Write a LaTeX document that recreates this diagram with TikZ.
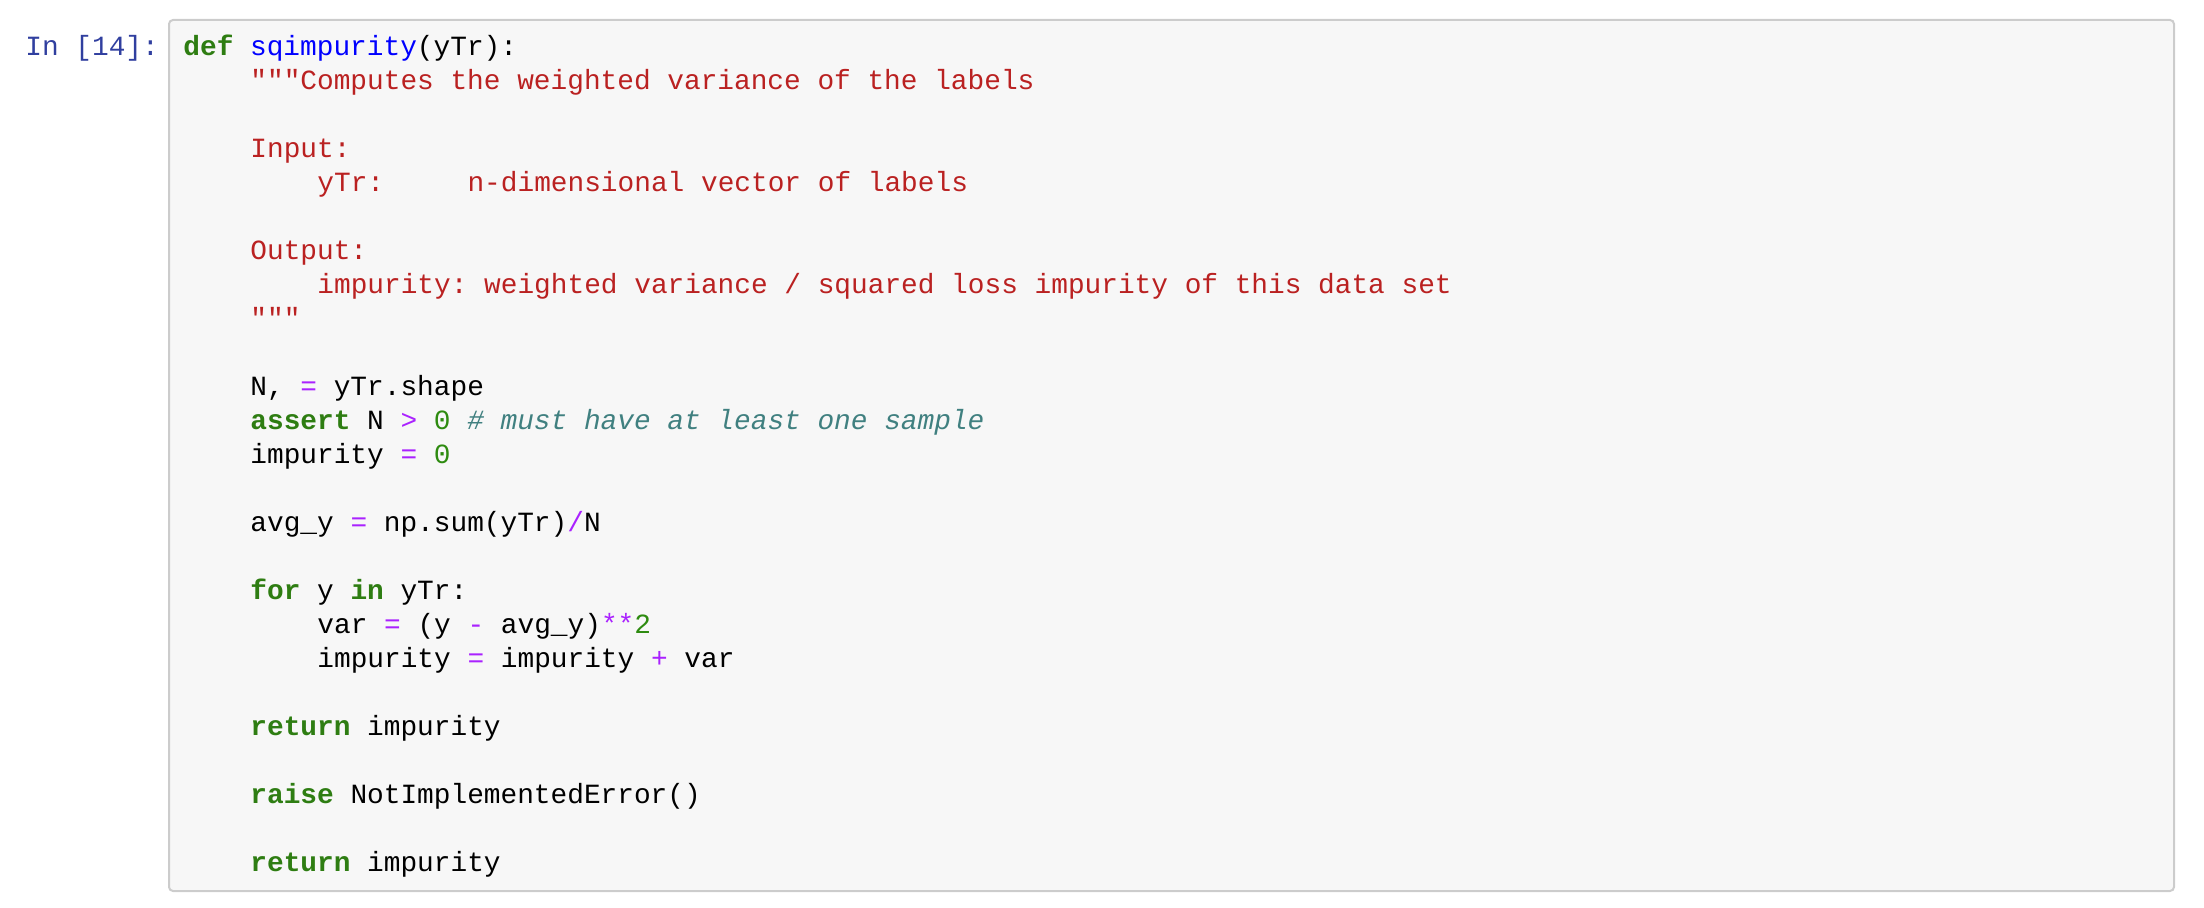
\documentclass[tikz,border=0pt]{standalone}
\usepackage{fontspec}
\setmonofont{Liberation Mono}
\definecolor{kwc}{HTML}{2E7D12}
\definecolor{fnc}{HTML}{0000FF}
\definecolor{stc}{HTML}{BA2121}
\definecolor{cmc}{HTML}{408080}
\definecolor{opc}{HTML}{AA22FF}
\definecolor{nmc}{HTML}{2E8B10}
\definecolor{prc}{HTML}{303F9F}
\newcommand{\kw}[1]{\textcolor{kwc}{\bfseries #1}}
\newcommand{\fn}[1]{\textcolor{fnc}{#1}}
\newcommand{\st}[1]{\textcolor{stc}{#1}}
\newcommand{\cm}[1]{\textcolor{cmc}{\itshape #1}}
\newcommand{\op}[1]{\textcolor{opc}{#1}}
\newcommand{\nm}[1]{\textcolor{nmc}{#1}}
\begin{document}
\begin{tikzpicture}[x=0.5pt,y=-0.5pt,
  code/.style={anchor=base west,inner sep=0pt,font=\ttfamily\fontsize{13.9}{17}\selectfont}]
\useasboundingbox (0,0) rectangle (2204,908);
\draw[fill=black!3,draw=black!20,line width=1pt,rounded corners=2pt] (169,20) rectangle (2174,891);
\node[code,text=prc] (p) at (25,56) {In~[14]:};
\newcommand{\cl}[4]{\node[code] (#1) at ({183+#2*16.75},{56+#3*33.98}) {#4};}
\cl{l0}{0}{0}{\kw{def}~\fn{sqimpurity}(yTr):}
\cl{l1}{4}{1}{\st{"{}"{}"Computes~the~weighted~variance~of~the~labels}}
\cl{l3}{4}{3}{\st{Input:}}
\cl{l4}{8}{4}{\st{yTr:~~~~~n-dimensional~vector~of~labels}}
\cl{l6}{4}{6}{\st{Output:}}
\cl{l7}{8}{7}{\st{impurity:~weighted~variance~/~squared~loss~impurity~of~this~data~set}}
\cl{l8}{4}{8}{\st{"{}"{}"}}
\cl{l10}{4}{10}{N,~\op{=}~yTr.shape}
\cl{l11}{4}{11}{\kw{assert}~N~\op{>}~\nm{0}~\cm{\#~must~have~at~least~one~sample}}
\cl{l12}{4}{12}{impurity~\op{=}~\nm{0}}
\cl{l14}{4}{14}{avg\_y~\op{=}~np.sum(yTr)\op{/}N}
\cl{l16}{4}{16}{\kw{for}~y~\kw{in}~yTr:}
\cl{l17}{8}{17}{var~\op{=}~(y~\op{-}~avg\_y)\op{**}\nm{2}}
\cl{l18}{8}{18}{impurity~\op{=}~impurity~\op{+}~var}
\cl{l20}{4}{20}{\kw{return}~impurity}
\cl{l22}{4}{22}{\kw{raise}~NotImplementedError()}
\cl{l24}{4}{24}{\kw{return}~impurity}
\end{tikzpicture}
\end{document}
